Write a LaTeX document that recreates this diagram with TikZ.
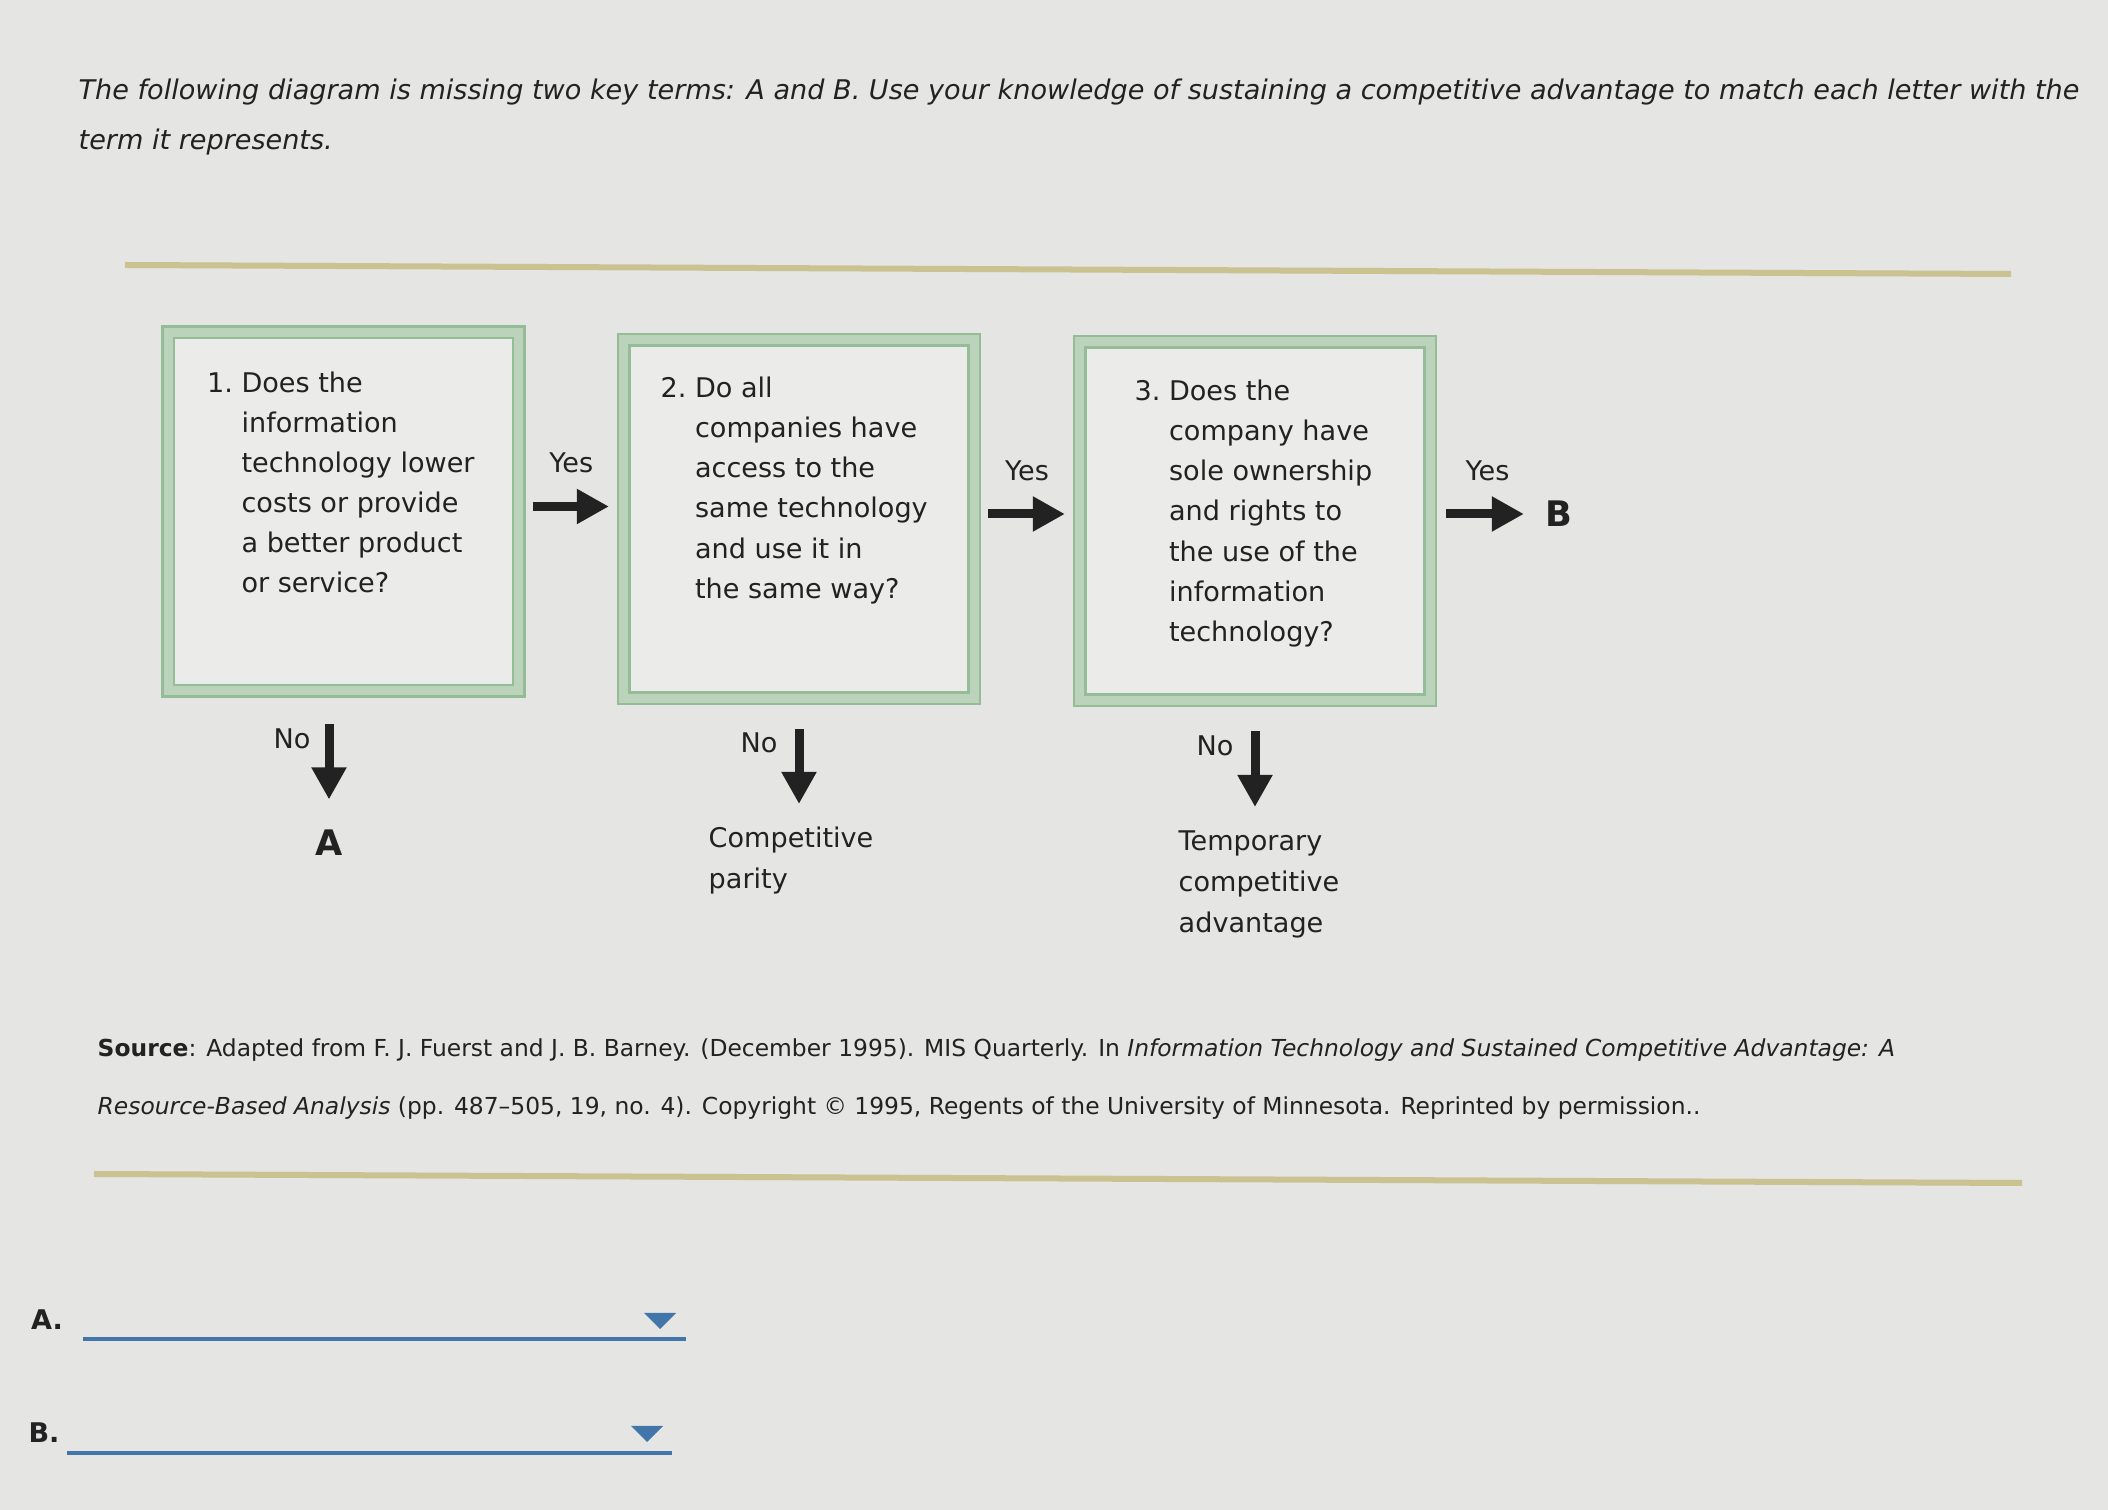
\documentclass[tikz,border=0pt]{standalone}
\usepackage{fontspec}
\setmainfont{DejaVu Sans}
\usetikzlibrary{arrows.meta,positioning}

\definecolor{pagegray}{RGB}{229,229,227}
\definecolor{boxfill}{RGB}{235,235,233}
\definecolor{boxgreen}{RGB}{148,188,150}
\definecolor{bandgreen}{RGB}{186,211,186}
\definecolor{rulekhaki}{RGB}{203,194,146}
\definecolor{formblue}{RGB}{66,118,170}
\definecolor{inkgray}{RGB}{34,34,34}

\begin{document}
\begin{tikzpicture}[x=0.01cm,y=-0.01cm,
    qbox/.style={draw=boxgreen,line width=0.025cm,double=bandgreen,
      double distance=0.09cm,fill=boxfill,minimum width=3.5cm,
      minimum height=3.58cm,inner sep=0pt,outer sep=0pt},
    qtext/.style={inner sep=0pt,text=inkgray,
      font=\fontsize{7.7}{11.4}\selectfont},
    flow/.style={draw=inkgray,line width=0.09cm,
      -{Triangle[width=0.33cm,length=0.32cm]}},
    flowlabel/.style={inner sep=0pt,text=inkgray,
      font=\fontsize{7.7}{9}\selectfont},
    outcome/.style={inner sep=0pt,text=inkgray,align=left,
      font=\fontsize{7.7}{11.6}\selectfont},
    letter/.style={inner sep=0pt,text=inkgray,
      font=\fontsize{10}{12}\selectfont\bfseries},
    intro/.style={inner sep=0pt,text=inkgray,align=left,
      font=\fontsize{7.7}{14.2}\selectfont\itshape},
    source/.style={inner sep=0pt,text=inkgray,align=left,
      font=\fontsize{6.65}{16.5}\selectfont},
    formlabel/.style={inner sep=0pt,text=inkgray,
      font=\fontsize{7.7}{9}\selectfont\bfseries},
    hrule/.style={draw=rulekhaki,line width=0.06cm},
    answer/.style={draw=formblue,line width=0.045cm}]

  \fill[pagegray] (0,0) rectangle (2108,1510);

  \node[intro,anchor=north west] (header) at (78,78)
    {The following diagram is missing two key terms: A and B. Use your knowledge of sustaining a competitive advantage to match each letter with the\\
     term it represents.};
  \draw[hrule] (125,265) -- (2011,274);

  \foreach \i/\x/\y in {1/343.5/511.5,2/799/519,3/1255/521}
    \node[qbox] (box\i) at (\x,\y) {};

  \node[qtext,below right=0.31cm and 0.38cm of box1.north west] (q1) {%
    \begin{tabular}{@{}l@{\ }l@{}}
      1. & Does the\\
         & information\\
         & technology lower\\
         & costs or provide\\
         & a better product\\
         & or service?
    \end{tabular}};
  \node[qtext,below right=0.29cm and 0.36cm of box2.north west] (q2) {%
    \begin{tabular}{@{}l@{\ }l@{}}
      2. & Do all\\
         & companies have\\
         & access to the\\
         & same technology\\
         & and use it in\\
         & the same way?
    \end{tabular}};
  \node[qtext,below right=0.30cm and 0.54cm of box3.north west] (q3) {%
    \begin{tabular}{@{}l@{\ }l@{}}
      3. & Does the\\
         & company have\\
         & sole ownership\\
         & and rights to\\
         & the use of the\\
         & information\\
         & technology?
    \end{tabular}};

  \foreach \i/\j in {1/2,2/3}
    \draw[flow,shorten <=0.14cm,shorten >=0.15cm]
      ([yshift=0.05cm]box\i.east) -- ([yshift=0.05cm]box\i.east -| box\j.west)
      node[flowlabel,midway,above=0.29cm] {Yes};

  \node[letter] (outB) at (1559,514) {B};
  \draw[flow,shorten <=0.16cm,shorten >=0.21cm]
    (box3.east |- outB) -- (outB.west)
    node[flowlabel,midway,above=0.29cm] {Yes};

  \node[letter] (outA) at (329,843) {A};
  \node[outcome,anchor=north west] (parity) at (708,826)
    {Competitive\\parity};
  \node[outcome,anchor=north west] (temporary) at (1178,830)
    {Temporary\\competitive\\advantage};

  \draw[flow,shorten <=0.33cm,shorten >=0.30cm]
    (box1.south -| outA) -- (outA.north)
    node[flowlabel,pos=0.35,anchor=east,xshift=-0.14cm] {No};
  \draw[flow,shorten <=0.31cm,shorten >=0.22cm]
    (box2.south) -- (box2.south |- parity.north)
    node[flowlabel,pos=0.35,anchor=east,xshift=-0.17cm] {No};
  \draw[flow,shorten <=0.31cm,shorten >=0.23cm]
    (box3.south) -- (box3.south |- temporary.north)
    node[flowlabel,pos=0.35,anchor=east,xshift=-0.17cm] {No};

  \node[source,anchor=north west] (source) at (97,1038)
    {\textbf{Source}: Adapted from F. J. Fuerst and J. B. Barney. (December 1995). MIS Quarterly. In \textit{Information Technology and Sustained Competitive Advantage: A}\\
     \textit{Resource-Based Analysis} (pp. 487--505, 19, no. 4). Copyright © 1995, Regents of the University of Minnesota. Reprinted by permission..};
  \draw[hrule] (94,1174) -- (2022,1183);

  \foreach \n/\lx/\ly/\xa/\xb/\ty/\tx in {A/47/1320/83/686/1339/660,B/44/1433/67/672/1453/647} {
    \node[formlabel] (label\n) at (\lx,\ly) {\n.};
    \draw[answer] (\xa,\ty) -- (\xb,\ty);
    \fill[formblue] (\tx-16,\ly-7) -- (\tx+16,\ly-7) -- (\tx,\ly+9) -- cycle;
  }
\end{tikzpicture}
\end{document}
